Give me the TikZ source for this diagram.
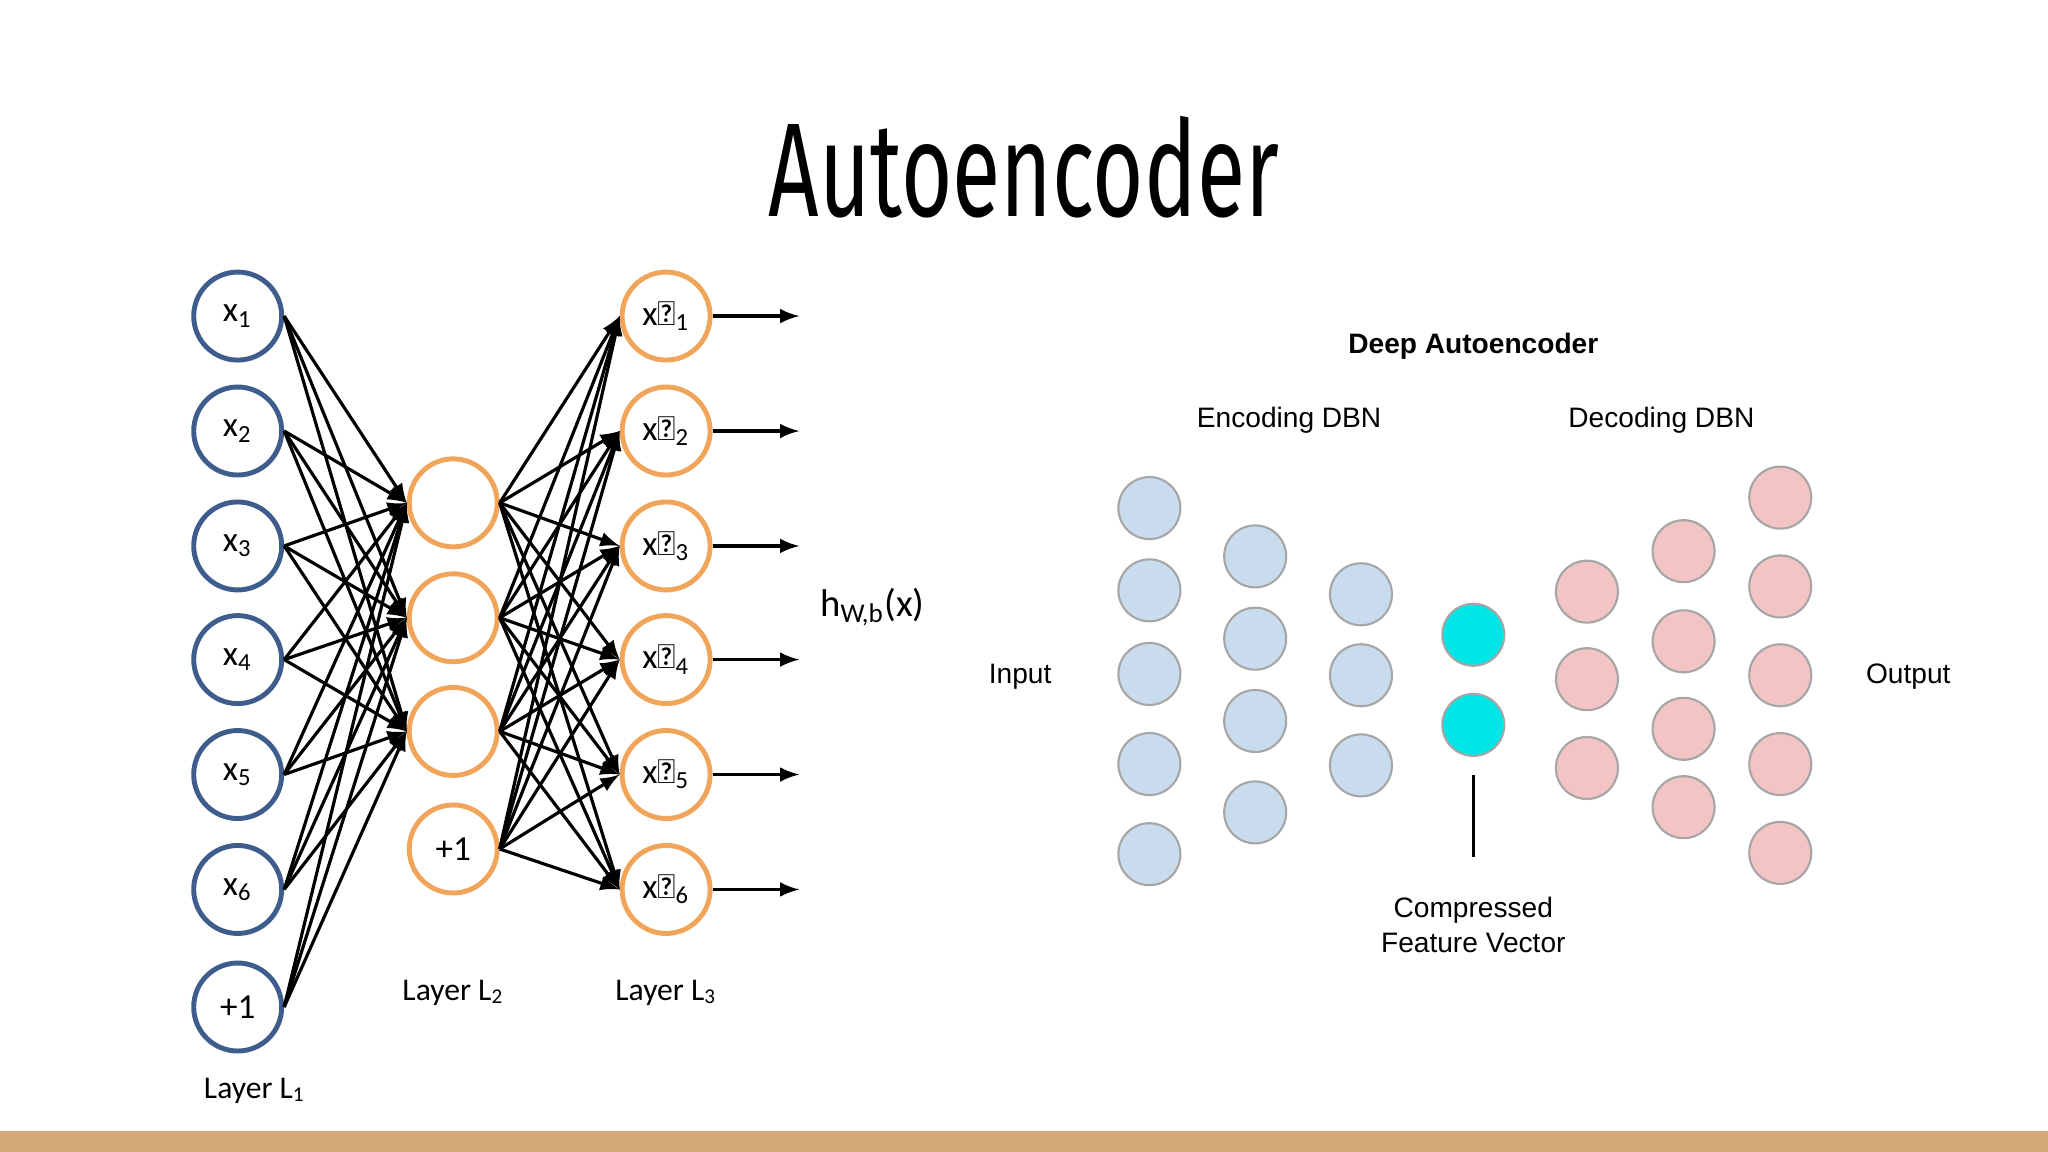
\documentclass[tikz,border=0pt]{standalone}
\usepackage{fontspec}
\setmainfont{Carlito}
\newfontfamily\arialfont{Liberation Sans}
\newfontfamily\titlefont{Fira Sans}
\usetikzlibrary{arrows}
\usetikzlibrary{positioning}
\definecolor{inblue}{HTML}{3E5C8C}
\definecolor{hidorange}{HTML}{F0A55A}
\definecolor{encblue}{HTML}{C9DCEE}
\definecolor{decpink}{HTML}{F2C4C4}
\definecolor{codecyan}{HTML}{00E5E5}
\definecolor{bartan}{HTML}{D4A877}
\tikzstyle{every node}+=[inner sep=0pt]
\tikzstyle{inode} = [circle, draw=inblue, line width=1.4pt, minimum size=0.88cm, font=\fontsize{10}{10}\selectfont]
\tikzstyle{onode} = [circle, draw=hidorange, line width=1.4pt, minimum size=0.88cm, font=\fontsize{10}{10}\selectfont]
\tikzstyle{line} = [draw, -latex, line width=0.9pt]
\tikzstyle{unit} = [circle, draw=gray!70, line width=0.6pt, minimum size=0.62cm]
\tikzstyle{caption} = [font=\fontsize{9}{10}\selectfont]
\tikzstyle{rlabel} = [font=\arialfont\fontsize{8}{10}\selectfont, align=center]

\begin{document}
\begin{tikzpicture}[x=0.01306cm, y=-0.01306cm]
            \path [use as bounding box] (0,0) rectangle (1568,882);
            \fill [bartan] (0,866) rectangle (1568,882);
            % Title
            \node [font=\titlefont\fontsize{38}{40}\selectfont, xscale=0.66] (title) at (784,128) {Autoencoder};
            % Left network: layers
            \foreach \y [count=\i] in {242,330,418,505,593,681}
              \node [inode] (a\i) at (182,\y) {x\textsubscript{\i}};
            \node [inode] (a7) at (182,771) {+1};
            \foreach \y [count=\i] in {385,473,560}
              \node [onode] (b\i) at (347,\y) {};
            \node [onode] (b4) at (347,650) {+1};
            \foreach \y [count=\i] in {242,330,418,505,593,681} {
              \node [onode] (c\i) at (510,\y) {\^{x}\textsubscript{\i}};
              \coordinate (o\i) at (612,\y);
              \path [line] (c\i) -- (o\i);
            }
            % Draw edges
            \foreach \i in {1,...,7}
              \foreach \j in {1,2,3}
                \path [line] (a\i.east) -- (b\j.west);
            \foreach \i in {1,...,4}
              \foreach \j in {1,...,6}
                \path [line] (b\i.east) -- (c\j.west);
            % Labels
            \node [caption] (l1) at (195,835) {Layer L\textsubscript{1}};
            \node [caption] (l2) at (347,760) {Layer L\textsubscript{2}};
            \node [caption] (l3) at (510,760) {Layer L\textsubscript{3}};
            \node [caption, font=\fontsize{11}{12}\selectfont] (h) at (668,465) {h\textsubscript{W,b}(x)};
            % Right network
            \node [rlabel, font=\arialfont\bfseries\fontsize{8}{10}\selectfont] (deep) at (1128,265) {Deep Autoencoder};
            \node [rlabel] (enc) at (987,322) {Encoding DBN};
            \node [rlabel] (dec) at (1272,322) {Decoding DBN};
            \node [rlabel] (input) at (781,518) {Input};
            \node [rlabel] (output) at (1461,518) {Output};
            \foreach \y [count=\i] in {389,452,516,585,654}
              \node [unit, fill=encblue] (e1\i) at (880,\y) {};
            \foreach \y [count=\i] in {426,489,552,622}
              \node [unit, fill=encblue] (e2\i) at (961,\y) {};
            \foreach \y [count=\i] in {455,517,586}
              \node [unit, fill=encblue] (e3\i) at (1042,\y) {};
            \foreach \y [count=\i] in {486,555}
              \node [unit, fill=codecyan] (z\i) at (1128,\y) {};
            \foreach \y [count=\i] in {453,520,588}
              \node [unit, fill=decpink] (d1\i) at (1215,\y) {};
            \foreach \y [count=\i] in {422,491,558,618}
              \node [unit, fill=decpink] (d2\i) at (1289,\y) {};
            \foreach \y [count=\i] in {381,449,517,585,653}
              \node [unit, fill=decpink] (d3\i) at (1363,\y) {};
            \node [rlabel] (feat) at (1128,708) {Compressed\\Feature Vector};
            \draw [line width=0.8pt] (1128,593) -- (feat.north |- 0,656);
\end{tikzpicture}
\end{document}
